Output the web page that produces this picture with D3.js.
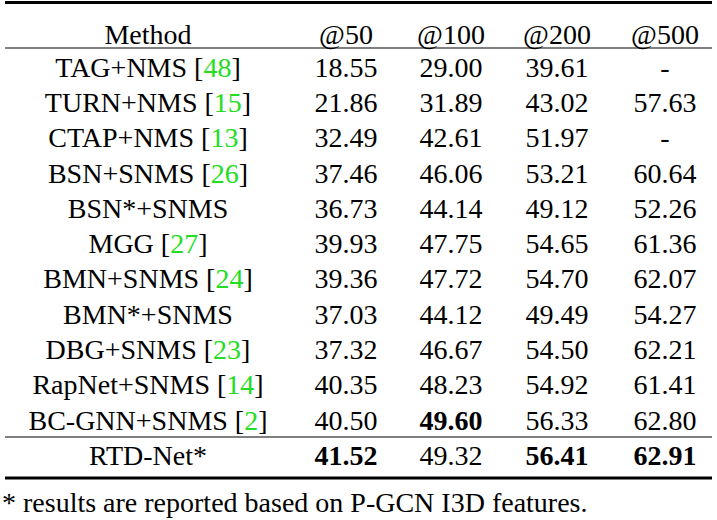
<!DOCTYPE html>
<html><head><meta charset="utf-8">
<script src="https://cdn.jsdelivr.net/npm/d3@7"></script>
<style>body{margin:0;background:#fff} text{font-family:'Liberation Serif','Times New Roman',Tinos,'DejaVu Serif',serif}</style></head>
<body><svg id="c" width="717" height="520"></svg>
<script>
const columns = ["Method","@50","@100","@200","@500"];
const methods = ["TAG+NMS","TURN+NMS","CTAP+NMS","BSN+SNMS","BSN*+SNMS","MGG","BMN+SNMS","BMN*+SNMS","DBG+SNMS","RapNet+SNMS","BC-GNN+SNMS","RTD-Net*"];
const refs = ["48","15","13","26",null,"27","24",null,"23","14","2",null];
const at50 = ["18.55","21.86","32.49","37.46","36.73","39.93","39.36","37.03","37.32","40.35","40.50","41.52"];
const at100 = ["29.00","31.89","42.61","46.06","44.14","47.75","47.72","44.12","46.67","48.23","49.60","49.32"];
const at200 = ["39.61","43.02","51.97","53.21","49.12","54.65","54.70","49.49","54.50","54.92","56.33","56.41"];
const at500 = ["-","57.63","-","60.64","52.26","61.36","62.07","54.27","62.21","61.41","62.80","62.91"];
const bold = [[11,1],[10,2],[11,3],[11,4]];
const footnote = "* results are reported based on P-GCN I3D features.";

const svg = d3.select("#c");
const fs = 28;
const x = d3.scaleOrdinal().domain(columns).range([148,346,451,557,665]);
const y = d3.scalePoint().domain(d3.range(methods.length)).range([67,455]);
const tableL = 5, tableR = 712;

function line(yy, w){ svg.append("line").attr("x1",tableL).attr("x2",tableR).attr("y1",yy).attr("y2",yy).attr("stroke","#000").attr("stroke-width",w); }
line(2.5,3); line(48,1.2); line(437,1.2); line(478,3);

svg.selectAll("text.h").data(columns).join("text").attr("class","h")
  .attr("x",d=>x(d)).attr("y",34).attr("dy","0.35em").attr("text-anchor","middle")
  .attr("font-size",fs).text(d=>d);

const vals = [at50,at100,at200,at500];
methods.forEach((m,i)=>{
  const t = svg.append("text").attr("x",x("Method")).attr("y",y(i)).attr("dy","0.35em")
    .attr("text-anchor","middle").attr("font-size",fs);
  t.append("tspan").text(m + (refs[i] ? " [" : ""));
  if(refs[i]){ t.append("tspan").attr("fill","#22dd22").text(refs[i]); t.append("tspan").text("]"); }
  vals.forEach((arr,j)=>{
    const isB = bold.some(b=>b[0]===i&&b[1]===j+1);
    svg.append("text").attr("x",x(columns[j+1])).attr("y",y(i)).attr("dy","0.35em")
      .attr("text-anchor","middle").attr("font-size",fs)
      .attr("font-weight",isB?"bold":"normal").text(arr[i]);
  });
});
svg.append("text").attr("x",2).attr("y",502).attr("dy","0.35em")
  .attr("font-size",fs).text(footnote);
</script></body></html>
